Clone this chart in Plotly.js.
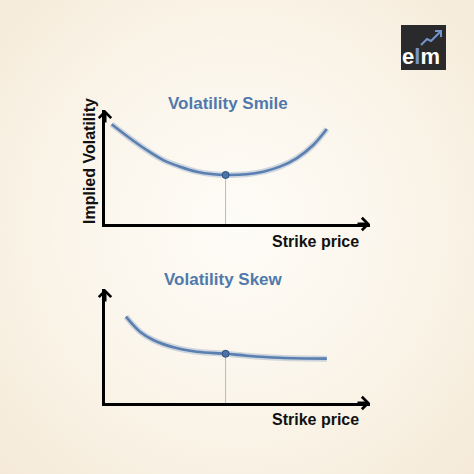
<!DOCTYPE html>
<html>
<head>
<meta charset="utf-8">
<script src="https://cdn.plot.ly/plotly-3.0.1.min.js"></script>
<style>
  html, body { margin: 0; padding: 0; }
  body { width: 474px; height: 474px; background: radial-gradient(ellipse at 50% 48%, #fefcf7 0%, #fbf6ec 45%, #f5ead8 100%); }
  #chart { width: 474px; height: 474px; }
</style>
</head>
<body>
<div id="chart"></div>
<script>
// ---- data (arbitrary units: strike 0-100, implied volatility 0-100) ----
const smileStrike = [2.5, 9.4, 15.7, 22.0, 28.3, 34.6, 40.9, 45.5, 53.5, 59.7, 66.0, 72.3, 78.6, 83.7];
const smileIV     = [87.5, 75.2, 64.9, 56.1, 50.3, 45.9, 43.6, 43.0, 43.6, 45.9, 50.3, 57.6, 69.3, 83.3];
const skewStrike  = [7.9, 13.2, 18.2, 25.8, 34.6, 45.5, 53.5, 66.0, 83.7];
const skewIV      = [75.7, 62.5, 55.3, 48.9, 45.0, 43.2, 41.5, 39.7, 38.9];
const atmStrike   = [45.5];
const smileAtmIV  = [43.0];
const skewAtmIV   = [43.2];
const titles      = ["Volatility Smile", "Volatility Skew"];
const xLabel      = "Strike price";
const yLabel      = "Implied Volatility";

const curveColor = '#5a7fb1';
const glowColor = 'rgba(90,127,177,0.28)';
const dropColor = '#a9bccf';

function panel(xs, ys, atmY, xa, ya) {
  return [
    {x: [atmStrike[0], atmStrike[0]], y: [0, atmY[0]], xaxis: xa, yaxis: ya, mode: 'lines',
     line: {color: dropColor, width: 1}, hoverinfo: 'skip', showlegend: false},
    {x: xs, y: ys, xaxis: xa, yaxis: ya, mode: 'lines',
     line: {color: glowColor, width: 6, shape: 'spline', smoothing: 1}, hoverinfo: 'skip', showlegend: false},
    {x: xs, y: ys, xaxis: xa, yaxis: ya, mode: 'lines',
     line: {color: curveColor, width: 2.6, shape: 'spline', smoothing: 1}, showlegend: false},
    {x: atmStrike, y: atmY, xaxis: xa, yaxis: ya, mode: 'markers',
     marker: {size: 7, color: '#4d74a8', line: {color: '#2c4f80', width: 1}}, showlegend: false}
  ];
}

const data = [].concat(
  panel(smileStrike, smileIV, smileAtmIV, 'x', 'y'),
  panel(skewStrike, skewIV, skewAtmIV, 'x2', 'y2')
);

const W = 474, H = 474;
const px = v => v / W;
const py = v => 1 - v / H;

const axisBase = {
  range: [0, 100], showgrid: false, zeroline: false, showticklabels: false, ticks: '',
  showline: true, linecolor: '#000', linewidth: 3, fixedrange: true
};

const titleFont = {family: 'Liberation Sans, Arial, sans-serif', size: 17, color: '#5079ab', weight: 'bold'};
const labelFont = {family: 'Liberation Sans, Arial, sans-serif', size: 16, color: '#111', weight: 'bold'};

function arrowHead(xref, yref, x, y, ax, ay) {
  return {xref: xref, yref: yref, x: x, y: y, ax: ax, ay: ay, text: '', showarrow: true,
          arrowhead: 4, arrowsize: 0.8, arrowwidth: 3, arrowcolor: '#000', standoff: 0};
}

const annotations = [
  {xref: 'paper', yref: 'paper', x: px(228), y: py(103), text: '<b>' + titles[0] + '</b>', showarrow: false, font: titleFont, xanchor: 'center', yanchor: 'middle'},
  {xref: 'paper', yref: 'paper', x: px(223), y: py(279), text: '<b>' + titles[1] + '</b>', showarrow: false, font: titleFont, xanchor: 'center', yanchor: 'middle'},
  {xref: 'paper', yref: 'paper', x: px(361), y: py(241), text: '<b>' + xLabel + '</b>', showarrow: false, font: labelFont, xanchor: 'right', yanchor: 'middle'},
  {xref: 'paper', yref: 'paper', x: px(361), y: py(419), text: '<b>' + xLabel + '</b>', showarrow: false, font: labelFont, xanchor: 'right', yanchor: 'middle'},
  {xref: 'paper', yref: 'paper', x: px(90), y: py(161), text: '<b>' + yLabel + '</b>', showarrow: false, font: labelFont, textangle: -90, xanchor: 'center', yanchor: 'middle'},
  arrowHead('x', 'y', 100, 0, -14, 0),
  arrowHead('x', 'y', 0, 100, 0, 14),
  arrowHead('x2', 'y2', 100, 0, -14, 0),
  arrowHead('x2', 'y2', 0, 100, 0, 14),
  // logo text
  {xref: 'paper', yref: 'paper', x: px(421), y: py(56), showarrow: false, xanchor: 'center', yanchor: 'middle',
   text: '<b><span style="color:#ffffff">e</span><span style="color:#7394cc">l</span><span style="color:#ffffff">m</span></b>',
   font: {family: 'Liberation Sans Narrow, Liberation Sans, Arial Narrow, sans-serif', size: 22, color: '#fff'}}
];

const shapes = [
  // logo box
  {type: 'rect', xref: 'paper', yref: 'paper', x0: px(402), x1: px(445), y0: py(69), y1: py(26),
   fillcolor: '#2a2a2c', line: {color: '#2a2a2c', width: 2}, layer: 'below'},
  // logo trend line
  {type: 'path', xref: 'paper', yref: 'paper',
   path: 'M ' + px(421) + ',' + py(45) + ' L ' + px(427) + ',' + py(39) + ' L ' + px(431) + ',' + py(41) + ' L ' + px(440) + ',' + py(32),
   line: {color: '#7394cc', width: 2}},
  {type: 'path', xref: 'paper', yref: 'paper',
   path: 'M ' + px(435) + ',' + py(31) + ' L ' + px(441) + ',' + py(31) + ' L ' + px(441) + ',' + py(37),
   line: {color: '#7394cc', width: 2}}
];

const layout = {
  width: W, height: H,
  margin: {l: 0, r: 0, t: 0, b: 0},
  paper_bgcolor: 'rgba(0,0,0,0)', plot_bgcolor: 'rgba(0,0,0,0)',
  showlegend: false,
  xaxis: Object.assign({}, axisBase, {domain: [px(105), px(370)], anchor: 'y'}),
  yaxis: Object.assign({}, axisBase, {domain: [py(224), py(110)], anchor: 'x'}),
  xaxis2: Object.assign({}, axisBase, {domain: [px(105), px(370)], anchor: 'y2'}),
  yaxis2: Object.assign({}, axisBase, {domain: [py(403), py(289)], anchor: 'x2'}),
  annotations: annotations,
  shapes: shapes
};

Plotly.newPlot('chart', data, layout, {displayModeBar: false, staticPlot: true});
</script>
</body>
</html>
